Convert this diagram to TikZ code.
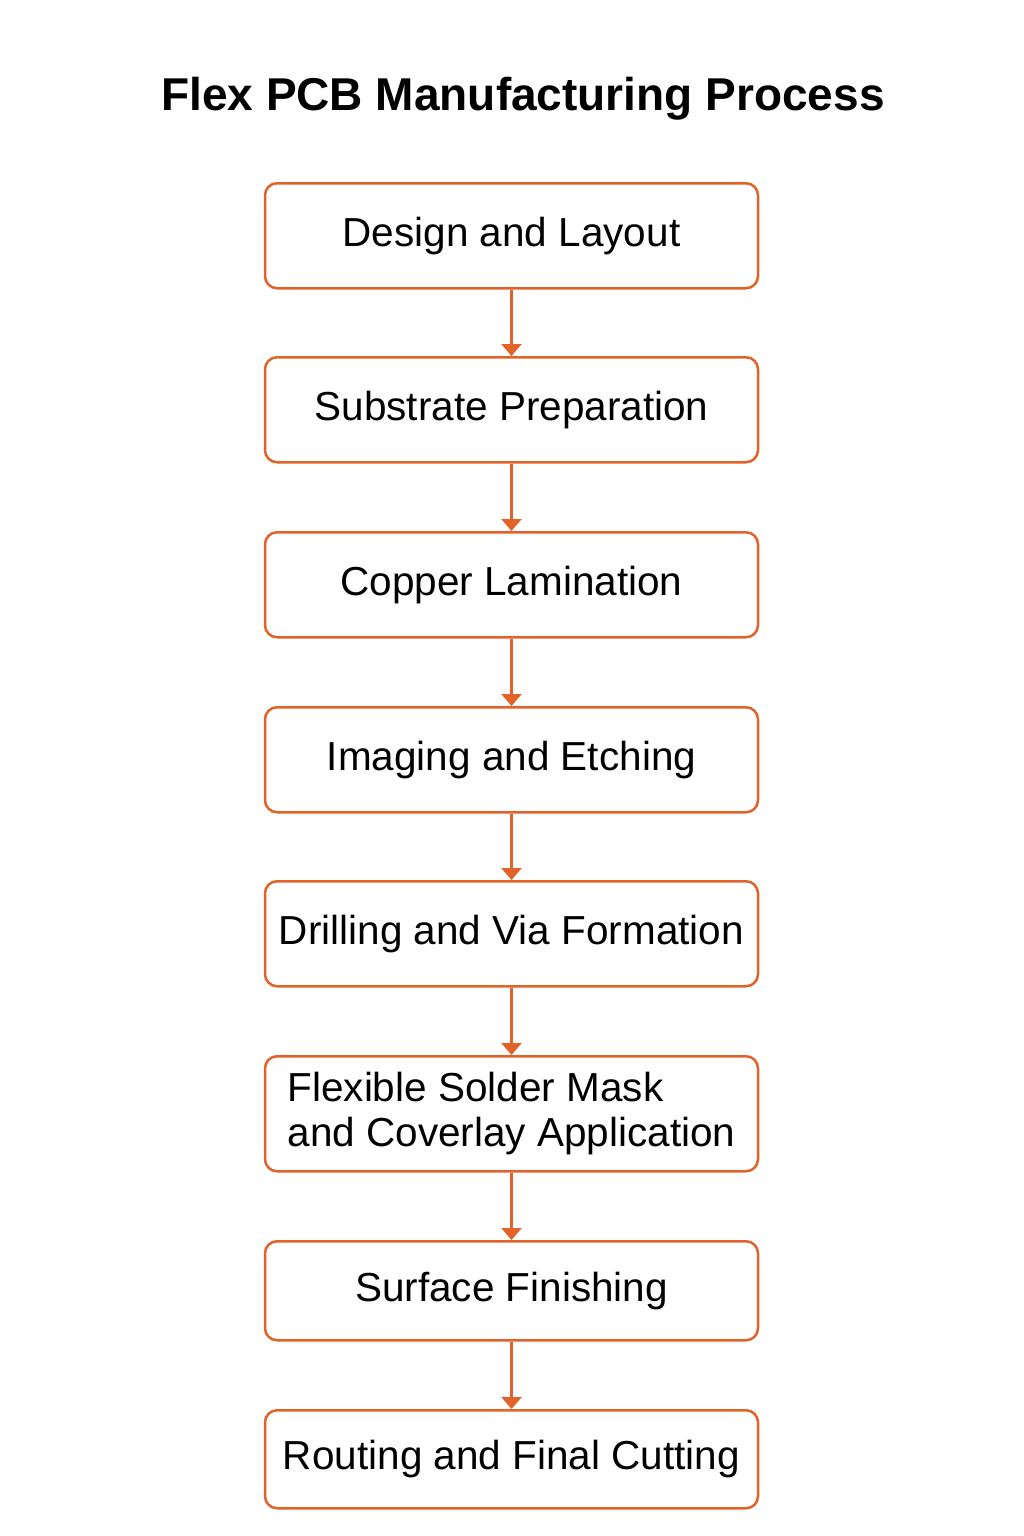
\documentclass[tikz,border=0pt]{standalone}
\usepackage{fontspec}
\setmainfont{Liberation Sans}
\usetikzlibrary{arrows.meta}
\definecolor{org}{HTML}{E2632A}
\begin{document}
\begin{tikzpicture}[x=1pt,y=-1pt,
  box/.style={draw=org,line width=2.5pt,rounded corners=12pt,minimum width=493pt,anchor=north,fill=white,font=\fontsize{40.5}{45}\selectfont,align=left},
  arr/.style={draw=org,line width=2.5pt,-{Triangle[length=12pt,width=20pt]}}]
\useasboundingbox[fill=white] (0,0) rectangle (1024,1536);
\node[font=\bfseries\fontsize{46}{52}\selectfont] (t) at (523,99) {Flex PCB Manufacturing Process};
\node[box,minimum height=105pt] (b1) at (511.5,182) {Design and Layout};
\node[box,minimum height=105pt] (b2) at (511.5,356) {Substrate Preparation};
\node[box,minimum height=105pt] (b3) at (511.5,531) {Copper Lamination};
\node[box,minimum height=105pt] (b4) at (511.5,706) {Imaging and Etching};
\node[box,minimum height=105pt] (b5) at (511.5,880) {Drilling and Via Formation};
\node[box,minimum height=115pt] (b6) at (511.5,1055) {Flexible Solder Mask\\and Coverlay Application};
\node[box,minimum height=99pt] (b7) at (511.5,1240) {Surface Finishing};
\node[box,minimum height=98pt] (b8) at (511.5,1409) {Routing and Final Cutting};
\foreach \a/\b in {b1/b2,b2/b3,b3/b4,b4/b5,b5/b6,b6/b7,b7/b8}
  \draw[arr] (\a.south) -- (\b.north);
\end{tikzpicture}
\end{document}
